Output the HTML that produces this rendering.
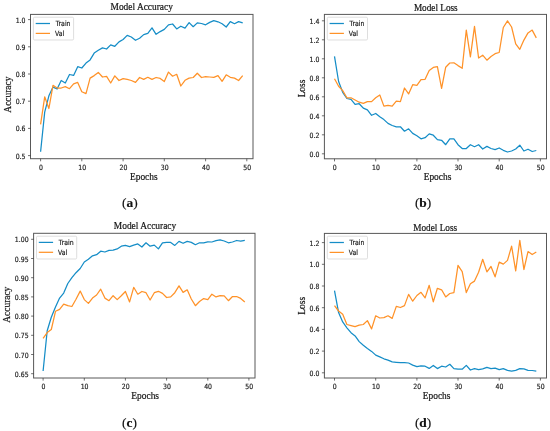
<!DOCTYPE html>
<html lang="en"><head><meta charset="utf-8"><title>Model accuracy and loss</title>
<style>
html,body{margin:0;padding:0;background:#fff}
svg{display:block;filter:blur(0.35px)}
.t{font-family:"DejaVu Sans","Liberation Sans",sans-serif;font-size:7.2px;fill:#1e1e1e;stroke:#1e1e1e;stroke-width:0.2}
.s{font-family:"Liberation Serif",serif;fill:#141414;stroke:#141414;stroke-width:0.22}
.c{font-family:"Liberation Serif",serif;fill:#111;font-size:13.4px;stroke:#111;stroke-width:0.15}
.ln{fill:none;stroke-width:1.25;stroke-linejoin:round;stroke-linecap:butt}
</style></head><body>
<svg width="550" height="431" viewBox="0 0 550 431">
<rect width="550" height="431" fill="#fff"/>
<g>
<polyline class="ln" stroke="#158dc7" points="40.6,151.8 44.7,112.1 48.9,95.8 53.0,87.1 57.1,89.0 61.2,80.5 65.3,83.0 69.5,74.5 73.6,75.4 77.7,66.7 81.8,68.0 86.0,63.1 90.1,59.9 94.2,53.1 98.3,50.3 102.5,47.9 106.6,49.0 110.7,44.9 114.8,46.3 119.0,41.9 123.1,39.5 127.2,35.4 131.3,37.0 135.5,40.3 139.6,38.2 143.7,34.6 147.8,33.3 152.0,27.8 156.1,34.3 160.2,31.6 164.3,29.4 168.5,24.8 172.6,24.0 176.7,28.9 180.8,26.2 185.0,28.1 189.1,22.6 193.2,26.7 197.3,22.9 201.5,23.5 205.6,24.8 209.7,22.4 213.8,20.7 218.0,21.8 222.1,23.7 226.2,27.0 230.3,21.6 234.5,23.7 238.6,21.6 242.7,22.9"/>
<polyline class="ln" stroke="#ff9228" points="40.6,124.3 44.7,96.8 48.9,108.5 53.0,85.3 57.1,88.0 61.2,88.0 65.3,86.6 69.5,88.7 73.6,83.8 77.7,82.4 81.8,91.7 86.0,93.6 90.1,78.1 94.2,75.6 98.3,72.4 102.5,77.0 106.6,76.4 110.7,83.0 114.8,75.9 119.0,80.5 123.1,78.6 127.2,79.4 131.3,80.5 135.5,82.4 139.6,77.5 143.7,79.4 147.8,77.3 152.0,79.4 156.1,77.5 160.2,78.4 164.3,81.6 168.5,72.1 172.6,76.2 176.7,74.3 180.8,86.0 185.0,80.3 189.1,78.1 193.2,77.5 197.3,73.2 201.5,77.5 205.6,76.7 209.7,77.0 213.8,77.3 218.0,75.6 222.1,81.3 226.2,74.8 230.3,77.3 234.5,78.1 238.6,80.5 242.7,75.6"/>
<rect x="30.5" y="14.4" width="222.5" height="144.3" fill="none" stroke="#585858" stroke-width="1"/>
<line x1="40.6" y1="158.7" x2="40.6" y2="161.3" stroke="#333" stroke-width="0.7"/><text class="t" transform="translate(40.90,169.50) scale(0.86,1)" text-anchor="middle">0</text>
<line x1="81.8" y1="158.7" x2="81.8" y2="161.3" stroke="#333" stroke-width="0.7"/><text class="t" transform="translate(82.15,169.50) scale(0.86,1)" text-anchor="middle">10</text>
<line x1="123.1" y1="158.7" x2="123.1" y2="161.3" stroke="#333" stroke-width="0.7"/><text class="t" transform="translate(123.40,169.50) scale(0.86,1)" text-anchor="middle">20</text>
<line x1="164.3" y1="158.7" x2="164.3" y2="161.3" stroke="#333" stroke-width="0.7"/><text class="t" transform="translate(164.65,169.50) scale(0.86,1)" text-anchor="middle">30</text>
<line x1="205.6" y1="158.7" x2="205.6" y2="161.3" stroke="#333" stroke-width="0.7"/><text class="t" transform="translate(205.90,169.50) scale(0.86,1)" text-anchor="middle">40</text>
<line x1="246.8" y1="158.7" x2="246.8" y2="161.3" stroke="#333" stroke-width="0.7"/><text class="t" transform="translate(247.15,169.50) scale(0.86,1)" text-anchor="middle">50</text>
<line x1="28.0" y1="155.6" x2="30.5" y2="155.6" stroke="#333" stroke-width="0.7"/><text class="t" transform="translate(25.50,158.63) scale(0.86,1)" text-anchor="end">0.5</text>
<line x1="28.0" y1="128.4" x2="30.5" y2="128.4" stroke="#333" stroke-width="0.7"/><text class="t" transform="translate(25.50,131.43) scale(0.86,1)" text-anchor="end">0.6</text>
<line x1="28.0" y1="101.2" x2="30.5" y2="101.2" stroke="#333" stroke-width="0.7"/><text class="t" transform="translate(25.50,104.23) scale(0.86,1)" text-anchor="end">0.7</text>
<line x1="28.0" y1="74.0" x2="30.5" y2="74.0" stroke="#333" stroke-width="0.7"/><text class="t" transform="translate(25.50,77.03) scale(0.86,1)" text-anchor="end">0.8</text>
<line x1="28.0" y1="46.8" x2="30.5" y2="46.8" stroke="#333" stroke-width="0.7"/><text class="t" transform="translate(25.50,49.83) scale(0.86,1)" text-anchor="end">0.9</text>
<line x1="28.0" y1="19.6" x2="30.5" y2="19.6" stroke="#333" stroke-width="0.7"/><text class="t" transform="translate(25.50,22.63) scale(0.86,1)" text-anchor="end">1.0</text>
<rect x="33.4" y="17.2" width="40.2" height="22.8" rx="1.3" fill="#fff" fill-opacity="0.8" stroke="#d0d0d0" stroke-width="0.7"/>
<line x1="35.7" y1="23.5" x2="50.0" y2="23.5" stroke="#158dc7" stroke-width="1.25"/><text class="t" transform="translate(55.70,26.05) scale(0.86,1)">Train</text>
<line x1="35.7" y1="33.4" x2="50.0" y2="33.4" stroke="#ff9228" stroke-width="1.25"/><text class="t" transform="translate(54.90,35.95) scale(0.86,1)">Val</text>
<text class="s" transform="translate(141.70,9.50) scale(0.84,1)" text-anchor="middle" font-size="11.2">Model Accuracy</text>
<text class="s" transform="translate(143.80,179.90) scale(0.84,1)" text-anchor="middle" font-size="11.2">Epochs</text>
<text class="s" transform="translate(11.30,94.65) rotate(-90) scale(0.84,1)" text-anchor="middle" font-size="11.2">Accuracy</text>
<text class="c" x="129.8" y="206.6" text-anchor="middle">(<tspan font-weight="bold">a</tspan>)</text>
</g>
<g>
<polyline class="ln" stroke="#158dc7" points="334.5,56.4 338.6,81.5 342.7,92.3 346.9,98.5 351.0,99.4 355.1,104.4 359.2,103.7 363.3,108.1 367.4,109.8 371.6,115.3 375.7,113.5 379.8,116.8 383.9,119.6 388.0,123.4 392.2,125.5 396.3,126.8 400.4,126.8 404.5,131.2 408.6,128.8 412.7,133.4 416.9,135.8 421.0,138.8 425.1,137.7 429.2,133.9 433.3,135.2 437.4,139.6 441.6,140.3 445.7,144.7 449.8,138.8 453.9,138.8 458.0,144.7 462.2,148.5 466.3,148.5 470.4,144.7 474.5,146.7 478.6,144.7 482.7,149.0 486.9,146.4 491.0,148.5 495.1,149.7 499.2,148.0 503.3,150.3 507.5,152.0 511.6,151.0 515.7,149.0 519.8,145.2 523.9,151.0 528.0,149.2 532.2,151.5 536.3,150.5"/>
<polyline class="ln" stroke="#ff9228" points="334.5,78.8 338.6,86.3 342.7,90.6 346.9,97.8 351.0,97.8 355.1,100.0 359.2,102.2 363.3,103.3 367.4,101.7 371.6,101.6 375.7,97.8 379.8,95.0 383.9,106.1 388.0,105.4 392.2,106.1 396.3,101.1 400.4,101.6 404.5,88.0 408.6,93.9 412.7,84.7 416.9,85.4 421.0,79.7 425.1,79.3 429.2,70.5 433.3,67.4 437.4,66.7 441.6,88.3 445.7,67.2 449.8,63.0 453.9,62.8 458.0,65.6 462.2,68.3 466.3,30.1 470.4,56.9 474.5,26.4 478.6,58.0 482.7,55.2 486.9,60.2 491.0,56.5 495.1,53.7 499.2,52.5 503.3,27.5 507.5,20.8 511.6,27.0 515.7,43.8 519.8,49.3 523.9,40.1 528.0,32.9 532.2,30.1 536.3,37.9"/>
<rect x="324.4" y="14.4" width="222.1" height="144.4" fill="none" stroke="#585858" stroke-width="1"/>
<line x1="334.5" y1="158.8" x2="334.5" y2="161.4" stroke="#333" stroke-width="0.7"/><text class="t" transform="translate(334.80,169.60) scale(0.86,1)" text-anchor="middle">0</text>
<line x1="375.7" y1="158.8" x2="375.7" y2="161.4" stroke="#333" stroke-width="0.7"/><text class="t" transform="translate(375.98,169.60) scale(0.86,1)" text-anchor="middle">10</text>
<line x1="416.9" y1="158.8" x2="416.9" y2="161.4" stroke="#333" stroke-width="0.7"/><text class="t" transform="translate(417.16,169.60) scale(0.86,1)" text-anchor="middle">20</text>
<line x1="458.0" y1="158.8" x2="458.0" y2="161.4" stroke="#333" stroke-width="0.7"/><text class="t" transform="translate(458.34,169.60) scale(0.86,1)" text-anchor="middle">30</text>
<line x1="499.2" y1="158.8" x2="499.2" y2="161.4" stroke="#333" stroke-width="0.7"/><text class="t" transform="translate(499.52,169.60) scale(0.86,1)" text-anchor="middle">40</text>
<line x1="540.4" y1="158.8" x2="540.4" y2="161.4" stroke="#333" stroke-width="0.7"/><text class="t" transform="translate(540.70,169.60) scale(0.86,1)" text-anchor="middle">50</text>
<line x1="321.9" y1="153.8" x2="324.4" y2="153.8" stroke="#333" stroke-width="0.7"/><text class="t" transform="translate(319.40,156.83) scale(0.86,1)" text-anchor="end">0.0</text>
<line x1="321.9" y1="134.8" x2="324.4" y2="134.8" stroke="#333" stroke-width="0.7"/><text class="t" transform="translate(319.40,137.83) scale(0.86,1)" text-anchor="end">0.2</text>
<line x1="321.9" y1="115.8" x2="324.4" y2="115.8" stroke="#333" stroke-width="0.7"/><text class="t" transform="translate(319.40,118.83) scale(0.86,1)" text-anchor="end">0.4</text>
<line x1="321.9" y1="96.8" x2="324.4" y2="96.8" stroke="#333" stroke-width="0.7"/><text class="t" transform="translate(319.40,99.83) scale(0.86,1)" text-anchor="end">0.6</text>
<line x1="321.9" y1="77.8" x2="324.4" y2="77.8" stroke="#333" stroke-width="0.7"/><text class="t" transform="translate(319.40,80.83) scale(0.86,1)" text-anchor="end">0.8</text>
<line x1="321.9" y1="58.8" x2="324.4" y2="58.8" stroke="#333" stroke-width="0.7"/><text class="t" transform="translate(319.40,61.83) scale(0.86,1)" text-anchor="end">1.0</text>
<line x1="321.9" y1="39.8" x2="324.4" y2="39.8" stroke="#333" stroke-width="0.7"/><text class="t" transform="translate(319.40,42.83) scale(0.86,1)" text-anchor="end">1.2</text>
<line x1="321.9" y1="20.8" x2="324.4" y2="20.8" stroke="#333" stroke-width="0.7"/><text class="t" transform="translate(319.40,23.83) scale(0.86,1)" text-anchor="end">1.4</text>
<rect x="327.3" y="17.2" width="40.2" height="22.8" rx="1.3" fill="#fff" fill-opacity="0.8" stroke="#d0d0d0" stroke-width="0.7"/>
<line x1="329.6" y1="23.5" x2="343.9" y2="23.5" stroke="#158dc7" stroke-width="1.25"/><text class="t" transform="translate(349.60,26.05) scale(0.86,1)">Train</text>
<line x1="329.6" y1="33.4" x2="343.9" y2="33.4" stroke="#ff9228" stroke-width="1.25"/><text class="t" transform="translate(348.80,35.95) scale(0.86,1)">Val</text>
<text class="s" transform="translate(435.80,10.80) scale(0.84,1)" text-anchor="middle" font-size="11.0">Model Loss</text>
<text class="s" transform="translate(437.50,179.90) scale(0.84,1)" text-anchor="middle" font-size="11.2">Epochs</text>
<text class="s" transform="translate(305.30,88.50) rotate(-90) scale(0.84,1)" text-anchor="middle" font-size="11.2">Loss</text>
<text class="c" x="423.1" y="206.6" text-anchor="middle">(<tspan font-weight="bold">b</tspan>)</text>
</g>
<g>
<polyline class="ln" stroke="#158dc7" points="43.1,371.0 47.2,330.7 51.3,317.3 55.5,306.9 59.6,298.1 63.7,293.1 67.8,283.5 71.9,277.7 76.0,272.7 80.2,268.5 84.3,262.0 88.4,259.3 92.5,255.8 96.6,254.7 100.7,251.2 104.9,252.0 109.0,250.4 113.1,250.1 117.2,248.9 121.3,246.2 125.4,245.4 129.6,246.6 133.7,245.1 137.8,243.9 141.9,247.0 146.0,242.8 150.1,246.2 154.3,245.1 158.4,248.9 162.5,242.8 166.6,242.4 170.7,242.4 174.8,245.4 179.0,241.4 183.1,243.3 187.2,241.4 191.3,242.4 195.4,244.7 199.5,242.8 203.7,242.8 207.8,241.8 211.9,242.0 216.0,240.7 220.1,239.9 224.2,241.0 228.4,242.8 232.5,242.0 236.6,240.5 240.7,241.2 244.8,240.3"/>
<polyline class="ln" stroke="#ff9228" points="43.1,338.4 47.2,332.6 51.3,329.5 55.5,311.3 59.6,309.4 63.7,304.2 67.8,305.7 71.9,306.5 76.0,299.2 80.2,291.1 84.3,299.6 88.4,303.4 92.5,298.1 96.6,295.0 100.7,289.2 104.9,298.1 109.0,300.7 113.1,295.7 117.2,299.6 121.3,295.7 125.4,291.5 129.6,301.9 133.7,287.3 137.8,294.2 141.9,291.5 146.0,292.7 150.1,300.0 154.3,292.7 158.4,291.3 162.5,293.4 166.6,297.5 170.7,296.9 174.8,292.7 179.0,285.9 183.1,292.4 187.2,289.8 191.3,299.0 195.4,305.7 199.5,301.5 203.7,298.6 207.8,299.6 211.9,294.2 216.0,296.9 220.1,295.7 224.2,295.9 228.4,300.7 232.5,296.5 236.6,296.5 240.7,298.4 244.8,301.9"/>
<rect x="33.6" y="233.3" width="221.4" height="144.7" fill="none" stroke="#585858" stroke-width="1"/>
<line x1="43.1" y1="378.0" x2="43.1" y2="380.6" stroke="#333" stroke-width="0.7"/><text class="t" transform="translate(43.40,388.80) scale(0.86,1)" text-anchor="middle">0</text>
<line x1="84.3" y1="378.0" x2="84.3" y2="380.6" stroke="#333" stroke-width="0.7"/><text class="t" transform="translate(84.57,388.80) scale(0.86,1)" text-anchor="middle">10</text>
<line x1="125.4" y1="378.0" x2="125.4" y2="380.6" stroke="#333" stroke-width="0.7"/><text class="t" transform="translate(125.74,388.80) scale(0.86,1)" text-anchor="middle">20</text>
<line x1="166.6" y1="378.0" x2="166.6" y2="380.6" stroke="#333" stroke-width="0.7"/><text class="t" transform="translate(166.91,388.80) scale(0.86,1)" text-anchor="middle">30</text>
<line x1="207.8" y1="378.0" x2="207.8" y2="380.6" stroke="#333" stroke-width="0.7"/><text class="t" transform="translate(208.08,388.80) scale(0.86,1)" text-anchor="middle">40</text>
<line x1="248.9" y1="378.0" x2="248.9" y2="380.6" stroke="#333" stroke-width="0.7"/><text class="t" transform="translate(249.25,388.80) scale(0.86,1)" text-anchor="middle">50</text>
<line x1="31.1" y1="373.7" x2="33.6" y2="373.7" stroke="#333" stroke-width="0.7"/><text class="t" transform="translate(28.60,376.73) scale(0.86,1)" text-anchor="end">0.65</text>
<line x1="31.1" y1="354.5" x2="33.6" y2="354.5" stroke="#333" stroke-width="0.7"/><text class="t" transform="translate(28.60,357.53) scale(0.86,1)" text-anchor="end">0.70</text>
<line x1="31.1" y1="335.3" x2="33.6" y2="335.3" stroke="#333" stroke-width="0.7"/><text class="t" transform="translate(28.60,338.33) scale(0.86,1)" text-anchor="end">0.75</text>
<line x1="31.1" y1="316.1" x2="33.6" y2="316.1" stroke="#333" stroke-width="0.7"/><text class="t" transform="translate(28.60,319.13) scale(0.86,1)" text-anchor="end">0.80</text>
<line x1="31.1" y1="296.9" x2="33.6" y2="296.9" stroke="#333" stroke-width="0.7"/><text class="t" transform="translate(28.60,299.93) scale(0.86,1)" text-anchor="end">0.85</text>
<line x1="31.1" y1="277.7" x2="33.6" y2="277.7" stroke="#333" stroke-width="0.7"/><text class="t" transform="translate(28.60,280.73) scale(0.86,1)" text-anchor="end">0.90</text>
<line x1="31.1" y1="258.5" x2="33.6" y2="258.5" stroke="#333" stroke-width="0.7"/><text class="t" transform="translate(28.60,261.53) scale(0.86,1)" text-anchor="end">0.95</text>
<line x1="31.1" y1="239.3" x2="33.6" y2="239.3" stroke="#333" stroke-width="0.7"/><text class="t" transform="translate(28.60,242.33) scale(0.86,1)" text-anchor="end">1.00</text>
<rect x="36.5" y="236.2" width="40.2" height="22.8" rx="1.3" fill="#fff" fill-opacity="0.8" stroke="#d0d0d0" stroke-width="0.7"/>
<line x1="38.8" y1="242.4" x2="53.1" y2="242.4" stroke="#158dc7" stroke-width="1.25"/><text class="t" transform="translate(58.80,245.00) scale(0.86,1)">Train</text>
<line x1="38.8" y1="252.3" x2="53.1" y2="252.3" stroke="#ff9228" stroke-width="1.25"/><text class="t" transform="translate(58.00,254.90) scale(0.86,1)">Val</text>
<text class="s" transform="translate(145.00,228.95) scale(0.84,1)" text-anchor="middle" font-size="11.2">Model Accuracy</text>
<text class="s" transform="translate(145.20,399.30) scale(0.84,1)" text-anchor="middle" font-size="11.2">Epochs</text>
<text class="s" transform="translate(9.80,304.70) rotate(-90) scale(0.84,1)" text-anchor="middle" font-size="11.2">Accuracy</text>
<text class="c" x="129.5" y="426.6" text-anchor="middle">(<tspan font-weight="bold">c</tspan>)</text>
</g>
<g>
<polyline class="ln" stroke="#158dc7" points="334.5,290.7 338.6,312.6 342.7,321.9 346.9,327.8 351.0,332.7 355.1,335.9 359.2,341.6 363.3,345.3 367.4,348.5 371.6,351.4 375.7,355.1 379.8,356.9 383.9,358.8 388.0,360.1 392.2,361.9 396.3,362.3 400.4,362.7 404.5,362.7 408.6,363.0 412.7,365.1 416.9,366.7 421.0,365.9 425.1,366.2 429.2,368.4 433.3,365.4 437.4,368.6 441.6,366.2 445.7,367.0 449.8,364.3 453.9,368.6 458.0,369.2 462.2,369.2 466.3,365.4 470.4,370.0 474.5,368.6 478.6,369.7 482.7,368.9 486.9,367.3 491.0,368.6 495.1,368.1 499.2,369.7 503.3,368.6 507.5,370.3 511.6,371.1 515.7,370.3 519.8,368.6 523.9,368.9 528.0,370.3 532.2,370.5 536.3,371.1"/>
<polyline class="ln" stroke="#ff9228" points="334.5,305.6 338.6,311.0 342.7,314.3 346.9,324.5 351.0,325.6 355.1,326.7 359.2,325.2 363.3,324.5 367.4,320.6 371.6,328.9 375.7,315.8 379.8,318.0 383.9,317.6 388.0,315.8 392.2,318.4 396.3,306.4 400.4,307.5 404.5,305.6 408.6,294.4 412.7,301.2 416.9,295.5 421.0,292.3 425.1,297.9 429.2,285.3 433.3,301.8 437.4,288.3 441.6,289.8 445.7,296.9 449.8,293.5 453.9,292.6 458.0,265.4 462.2,271.7 466.3,292.6 470.4,283.7 474.5,281.1 478.6,272.3 482.7,259.3 486.9,271.9 491.0,266.5 495.1,276.8 499.2,262.1 503.3,264.1 507.5,260.4 511.6,246.2 515.7,270.8 519.8,240.3 523.9,269.5 528.0,251.6 532.2,254.5 536.3,252.0"/>
<rect x="324.4" y="233.4" width="222.1" height="144.6" fill="none" stroke="#585858" stroke-width="1"/>
<line x1="334.5" y1="378.0" x2="334.5" y2="380.6" stroke="#333" stroke-width="0.7"/><text class="t" transform="translate(334.80,388.80) scale(0.86,1)" text-anchor="middle">0</text>
<line x1="375.7" y1="378.0" x2="375.7" y2="380.6" stroke="#333" stroke-width="0.7"/><text class="t" transform="translate(375.98,388.80) scale(0.86,1)" text-anchor="middle">10</text>
<line x1="416.9" y1="378.0" x2="416.9" y2="380.6" stroke="#333" stroke-width="0.7"/><text class="t" transform="translate(417.16,388.80) scale(0.86,1)" text-anchor="middle">20</text>
<line x1="458.0" y1="378.0" x2="458.0" y2="380.6" stroke="#333" stroke-width="0.7"/><text class="t" transform="translate(458.34,388.80) scale(0.86,1)" text-anchor="middle">30</text>
<line x1="499.2" y1="378.0" x2="499.2" y2="380.6" stroke="#333" stroke-width="0.7"/><text class="t" transform="translate(499.52,388.80) scale(0.86,1)" text-anchor="middle">40</text>
<line x1="540.4" y1="378.0" x2="540.4" y2="380.6" stroke="#333" stroke-width="0.7"/><text class="t" transform="translate(540.70,388.80) scale(0.86,1)" text-anchor="middle">50</text>
<line x1="321.9" y1="372.8" x2="324.4" y2="372.8" stroke="#333" stroke-width="0.7"/><text class="t" transform="translate(319.40,375.83) scale(0.86,1)" text-anchor="end">0.0</text>
<line x1="321.9" y1="351.1" x2="324.4" y2="351.1" stroke="#333" stroke-width="0.7"/><text class="t" transform="translate(319.40,354.13) scale(0.86,1)" text-anchor="end">0.2</text>
<line x1="321.9" y1="329.4" x2="324.4" y2="329.4" stroke="#333" stroke-width="0.7"/><text class="t" transform="translate(319.40,332.43) scale(0.86,1)" text-anchor="end">0.4</text>
<line x1="321.9" y1="307.7" x2="324.4" y2="307.7" stroke="#333" stroke-width="0.7"/><text class="t" transform="translate(319.40,310.73) scale(0.86,1)" text-anchor="end">0.6</text>
<line x1="321.9" y1="286.0" x2="324.4" y2="286.0" stroke="#333" stroke-width="0.7"/><text class="t" transform="translate(319.40,289.03) scale(0.86,1)" text-anchor="end">0.8</text>
<line x1="321.9" y1="264.3" x2="324.4" y2="264.3" stroke="#333" stroke-width="0.7"/><text class="t" transform="translate(319.40,267.33) scale(0.86,1)" text-anchor="end">1.0</text>
<line x1="321.9" y1="242.6" x2="324.4" y2="242.6" stroke="#333" stroke-width="0.7"/><text class="t" transform="translate(319.40,245.63) scale(0.86,1)" text-anchor="end">1.2</text>
<rect x="327.3" y="236.2" width="40.2" height="22.8" rx="1.3" fill="#fff" fill-opacity="0.8" stroke="#d0d0d0" stroke-width="0.7"/>
<line x1="329.6" y1="242.5" x2="343.9" y2="242.5" stroke="#158dc7" stroke-width="1.25"/><text class="t" transform="translate(349.60,245.05) scale(0.86,1)">Train</text>
<line x1="329.6" y1="252.4" x2="343.9" y2="252.4" stroke="#ff9228" stroke-width="1.25"/><text class="t" transform="translate(348.80,254.95) scale(0.86,1)">Val</text>
<text class="s" transform="translate(435.20,230.90) scale(0.84,1)" text-anchor="middle" font-size="11.0">Model Loss</text>
<text class="s" transform="translate(436.60,399.10) scale(0.84,1)" text-anchor="middle" font-size="11.2">Epochs</text>
<text class="s" transform="translate(305.30,305.80) rotate(-90) scale(0.84,1)" text-anchor="middle" font-size="11.2">Loss</text>
<text class="c" x="423.1" y="426.6" text-anchor="middle">(<tspan font-weight="bold">d</tspan>)</text>
</g>
</svg>
</body></html>
